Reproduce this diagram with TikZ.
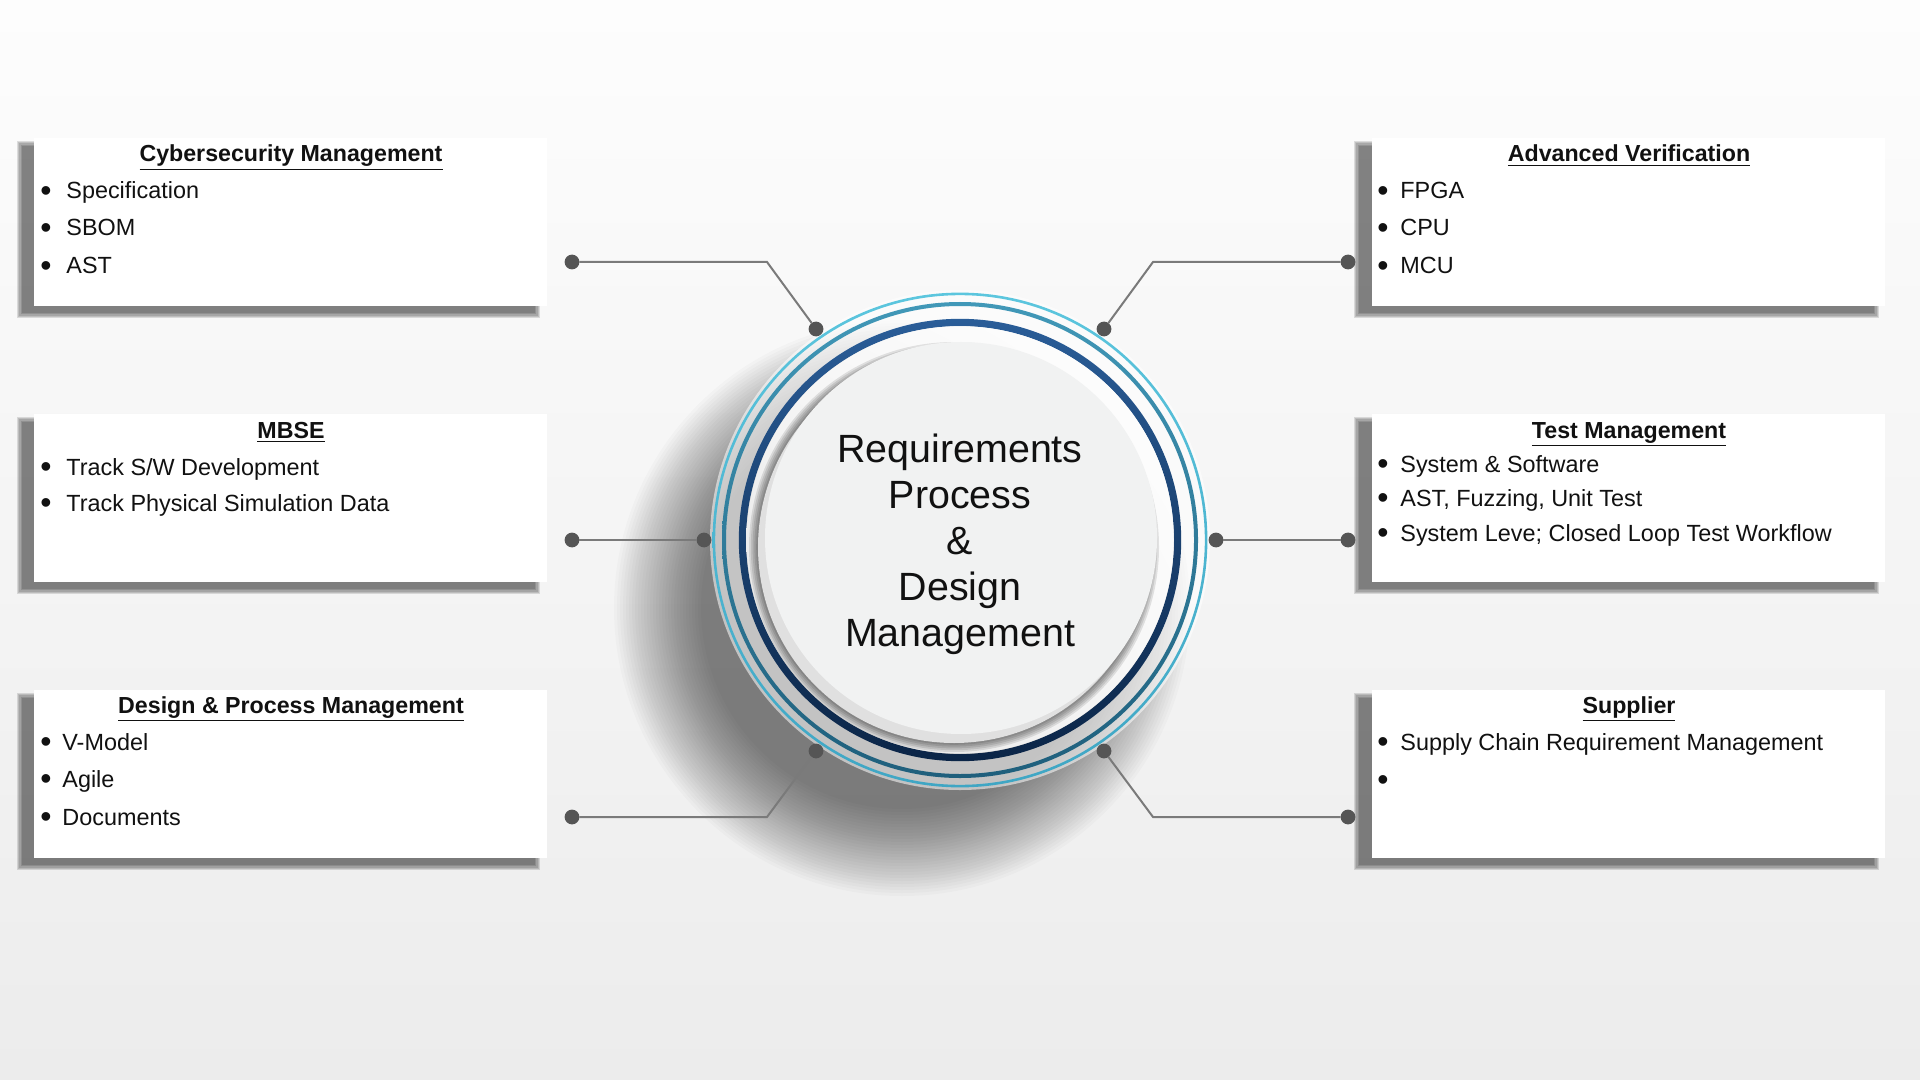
\documentclass[tikz,border=0pt]{standalone}
\usepackage{fontspec}
\setmainfont{Liberation Sans}
\usetikzlibrary{calc,shadings}
\definecolor{bgtop}{HTML}{FDFDFD}
\definecolor{bgbot}{HTML}{ECECEC}
\definecolor{dotc}{HTML}{555555}
\definecolor{linec}{HTML}{7A7A7A}
\definecolor{cyanA}{HTML}{5CC6DE}
\definecolor{cyanB}{HTML}{3FA6C4}
\definecolor{tealA}{HTML}{4198B8}
\definecolor{tealB}{HTML}{1F5F7C}
\definecolor{navyA}{HTML}{2A5D98}
\definecolor{navyB}{HTML}{0B2547}
\definecolor{discc}{HTML}{F1F2F2}
\definecolor{txt}{HTML}{111111}
\newcommand\mkboxshadow[4]{%
  \foreach \k in {0,1,2,3,4}{%
    \fill[black,opacity=0.12] (#1-12-\k*1.3, #2+8-\k*1.3) rectangle (#3-12+\k*1.3, #4+7+\k*1.3);}}
\newcommand\bul[1]{\makebox[#1][l]{\raisebox{-1.3pt}{\fontsize{16}{16}\selectfont\textbullet}}}
\begin{document}
\begin{tikzpicture}[x={(0.5pt,0)}, y={(0,-0.5pt)},
  box/.style={fill=white, draw=none, minimum width=256.5pt, minimum height=84pt, inner sep=0pt, outer sep=0pt},
  ttl/.style={font=\bfseries\fontsize{11.6}{13}\selectfont, text=txt, anchor=base, inner sep=0pt},
  itm/.style={font=\fontsize{11.7}{13}\selectfont, text=txt, anchor=base west, inner sep=0pt},
  dot/.style={circle, fill=dotc, minimum size=7.4pt, inner sep=0pt, outer sep=0pt},
  conn/.style={draw=linec, line width=1pt},
  ctext/.style={font=\fontsize{19.7}{23}\selectfont, text=txt, align=center, inner sep=0pt}
]
\useasboundingbox (0,0) rectangle (1920,1080);
\shade[top color=bgtop, bottom color=bgbot] (0,0) rectangle (1920,1080);

% big soft shadow of the central disc
\foreach \r in {288,285,...,200}{\fill[black,opacity=0.021] (902,608) circle[radius=\r*0.5pt];}

% box shadows
\mkboxshadow{34}{138}{547}{306}
\mkboxshadow{34}{414}{547}{582}
\mkboxshadow{34}{690}{547}{858}
\mkboxshadow{1371}{138}{1886}{306}
\mkboxshadow{1371}{414}{1886}{582}
\mkboxshadow{1371}{690}{1886}{858}

% boxes
\node[box] (cyb) at (290.5,222) {};
\node[box] (mbse) at (290.5,498) {};
\node[box] (dpm) at (290.5,774) {};
\node[box] (adv) at (1628.5,222) {};
\node[box] (tst) at (1628.5,498) {};
\node[box] (sup) at (1628.5,774) {};

% central disc and rings
\coordinate (ctr) at (960,540);
\fill[white,opacity=0.55] (ctr) circle[radius=125pt];
\shade[top color=cyanA, bottom color=cyanB, even odd rule] (ctr) circle[radius=123.7pt] circle[radius=122.4pt];
\shade[top color=tealA, bottom color=tealB, even odd rule] (ctr) circle[radius=119pt] circle[radius=117pt];
\shade[top color=navyA, bottom color=navyB, even odd rule] (ctr) circle[radius=110.6pt] circle[radius=107pt];
\shade[upper right=white, lower right=white!97!black, upper left=white!97!black, lower left=white!88!black] (ctr) circle[radius=106.8pt];
\foreach \k in {0,1,2,3,4,5}{\fill[black,opacity=0.1] (954,547) circle[radius=98pt+\k*0.9pt];}
\fill[white!88!black] (954,547) circle[radius=98pt];
\node[circle, fill=discc, minimum size=196pt, inner sep=0pt] (core) at (961,538) {};
\node[ctext] (ctitle) at (960,544) {Requirements\\Process\\\&\\Design\\Management};

% connectors
\node[dot] (l1o) at (572,262) {};
\node[dot] (l1i) at (816,329) {};
\coordinate (l1b) at (767,262);
\node[dot] (l2o) at (572,540) {};
\node[dot] (l2i) at (704,540) {};
\node[dot] (l3o) at (572,817) {};
\node[dot] (l3i) at (816,751) {};
\coordinate (l3b) at (767,817);
\node[dot] (r1o) at (1348,262) {};
\node[dot] (r1i) at (1104,329) {};
\coordinate (r1b) at (1153,262);
\node[dot] (r2o) at (1348,540) {};
\node[dot] (r2i) at (1216,540) {};
\node[dot] (r3o) at (1348,817) {};
\node[dot] (r3i) at (1104,751) {};
\coordinate (r3b) at (1153,817);
\draw[conn] (l1o) -- (l1b) -- (l1i);
\draw[conn] (l2o) -- (l2i);
\draw[conn] (l3o) -- (l3b) -- (l3i);
\draw[conn] (r1o) -- (r1b) -- (r1i);
\draw[conn] (r2o) -- (r2i);
\draw[conn] (r3o) -- (r3b) -- (r3i);

% texts left
\node[ttl] (cybt) at (291,162) {\underline{Cybersecurity Management}};
\node[itm] (cyb1) at (40,199) {\bul{13pt}Specification};
\node[itm] (cyb2) at (40,236) {\bul{13pt}SBOM};
\node[itm] (cyb3) at (40,274) {\bul{13pt}AST};

\node[ttl] (mbset) at (291,438) {\underline{MBSE}};
\node[itm] (mbse1) at (40,475) {\bul{13pt}Track S/W Development};
\node[itm] (mbse2) at (40,511) {\bul{13pt}Track Physical Simulation Data};

\node[ttl] (dpmt) at (291,713) {\underline{Design \& Process Management}};
\node[itm] (dpm1) at (40,750) {\bul{11pt}V-Model};
\node[itm] (dpm2) at (40,787) {\bul{11pt}Agile};
\node[itm] (dpm3) at (40,825) {\bul{11pt}Documents};

% texts right
\node[ttl] (advt) at (1629,162) {\underline{Advanced Verification}};
\node[itm] (adv1) at (1377,199) {\bul{11.5pt}FPGA};
\node[itm] (adv2) at (1377,236) {\bul{11.5pt}CPU};
\node[itm] (adv3) at (1377,274) {\bul{11.5pt}MCU};

\node[ttl] (tstt) at (1629,438) {\underline{Test Management}};
\node[itm] (tst1) at (1377,472) {\bul{11.5pt}System \& Software};
\node[itm] (tst2) at (1377,506) {\bul{11.5pt}AST, Fuzzing, Unit Test};
\node[itm] (tst3) at (1377,541) {\bul{11.5pt}System Leve; Closed Loop Test Workflow};

\node[ttl] (supt) at (1629,713) {\underline{Supplier}};
\node[itm] (sup1) at (1377,750) {\bul{11.5pt}Supply Chain Requirement Management};
\node[itm] (sup2) at (1377,788) {\bul{11.5pt}};
\end{tikzpicture}
\end{document}
